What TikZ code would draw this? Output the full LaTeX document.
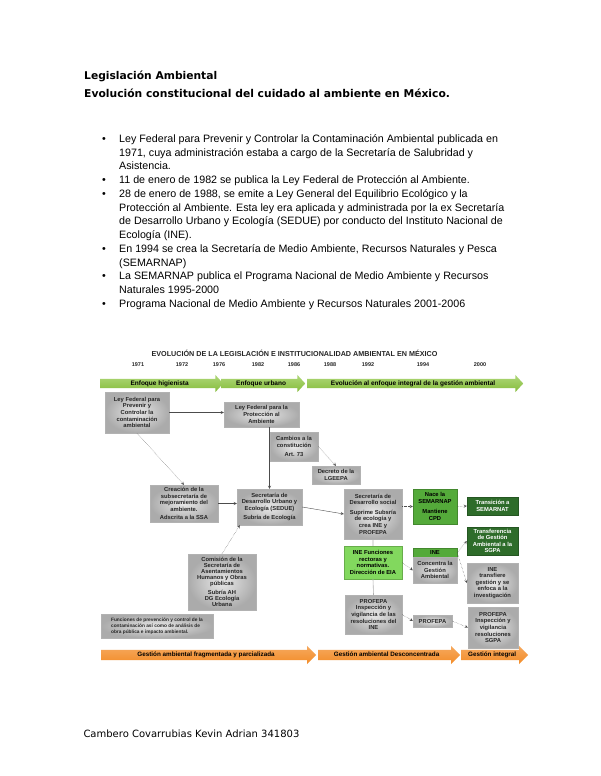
\documentclass[tikz,border=0pt]{standalone}
\usepackage{fontspec}
\setmainfont{Liberation Sans}
\newfontfamily\headfont{DejaVu Sans}
\usepackage{tikz}
\usetikzlibrary{shapes.arrows, positioning}

\definecolor{verdeflecha}{RGB}{140,198,63}
\definecolor{naranja}{RGB}{243,140,40}
\definecolor{verdemedio}{RGB}{84,170,58}
\definecolor{verdeoscuro}{RGB}{46,108,42}
\definecolor{verdeclaro}{RGB}{130,216,94}

\tikzset{
	>=stealth,
	x=1pt, y=-1pt,
	medida/.style 2 args={minimum width=#1, minimum height=#2},
	cajabase/.style={draw=gray!60, line width=0.3pt, inner sep=1pt, align=center,
		font=\fontsize{5.8}{6.6}\selectfont\bfseries},
	caja/.style={cajabase, inner color=gray!18, outer color=gray!66, text=black!85},
	cajaverde/.style={cajabase, fill=verdemedio, draw=verdemedio!80!black, text=black},
	cajaoscura/.style={cajabase, fill=verdeoscuro, draw=verdeoscuro!80!black, text=white},
	cajaclara/.style={cajabase, fill=verdeclaro, draw=verdeclaro!80!black, text=black},
	flechaverde/.style={single arrow, anchor=tail, draw=none,
		top color=verdeflecha!70!white, bottom color=verdeflecha!95!black,
		single arrow head extend=4pt, single arrow tip angle=95,
		text height=4.6pt, text depth=1.3pt, inner ysep=1.4pt, inner xsep=0pt,
		font=\fontsize{6.5}{7}\selectfont\bfseries},
	flechanaranja/.style={flechaverde, top color=naranja!75!white, bottom color=naranja,
		single arrow head extend=4pt, single arrow tip angle=90,
		text height=4.5pt, text depth=1.3pt, inner ysep=2.1pt,
		font=\fontsize{6.3}{7}\selectfont\bfseries},
	anio/.style={font=\fontsize{5.5}{6}\selectfont\bfseries, text=black!85},
	linea/.style={->, draw=black!70, line width=0.4pt},
	punteada/.style={linea, densely dotted},
	renglon/.style={anchor=base west, inner sep=0pt, font=\fontsize{10.7}{12}\selectfont}
}

\begin{document}
\begin{tikzpicture}
	\fill[white] (0,0) rectangle (600,776);
	\useasboundingbox (0,0) rectangle (600,776);

	% encabezado
	\node[anchor=base west, inner sep=0pt, font=\headfont\bfseries\fontsize{10.7}{12}\selectfont] (titulo) at (84,79) {Legislación Ambiental};
	\node[anchor=base west, inner sep=0pt, font=\headfont\bfseries\fontsize{10.75}{12}\selectfont] (subtitulo) at (84,97) {Evolución constitucional del cuidado al ambiente en México.};

	% lista
	\foreach \linea [count=\i from 0] in {
		{Ley Federal para Prevenir y Controlar la Contaminación Ambiental publicada en},
		{1971, cuya administración estaba a cargo de la Secretaría de Salubridad y},
		{Asistencia.},
		{11 de enero de 1982 se publica la Ley Federal de Protección al Ambiente.},
		{28 de enero de 1988, se emite a Ley General del Equilibrio Ecológico y la},
		{Protección al Ambiente. Esta ley era aplicada y administrada por la ex Secretaría},
		{de Desarrollo Urbano y Ecología (SEDUE) por conducto del Instituto Nacional de},
		{Ecología (INE).},
		{En 1994 se crea la Secretaría de Medio Ambiente, Recursos Naturales y Pesca},
		{(SEMARNAP)},
		{La SEMARNAP publica el Programa Nacional de Medio Ambiente y Recursos},
		{Naturales 1995-2000},
		{Programa Nacional de Medio Ambiente y Recursos Naturales 2001-2006}}
		\node[renglon] (l\i) at (119,{142.3+13.75*\i}) {\linea};
	\foreach \i in {0,3,4,8,10,12}
		\node[renglon, anchor=base] at (104,{142.3+13.75*\i}) {\textbullet};

	% diagrama
	\node[font=\fontsize{7.2}{8}\selectfont\bfseries, text=black!85] (diagtitulo) at (294.5,353) {EVOLUCIÓN DE LA LEGISLACIÓN E INSTITUCIONALIDAD AMBIENTAL EN MÉXICO};
	\foreach \anio/\x in {1971/138,1972/182,1976/219,1982/258,1986/294,1988/330,1992/368,1994/423,2000/480}
		\node[anio] (a\anio) at (\x,365) {\anio};

	\node[flechaverde, minimum height=123] (higienista) at (100,383.5) {Enfoque higienista};
	\node[flechaverde, minimum height=84] (urbano) at (221,383.5) {Enfoque urbano};
	\node[flechaverde, minimum height=216] (integral) at (307,383.5) {Evolución al enfoque integral de la gestión ambiental};

	\node[caja, medida={64}{41}] (leyfed71) at (137,412.5) {Ley Federal para\\Prevenir y\\Controlar la\\contaminación\\ambiental};
	\node[caja, medida={75}{25}] (leyfed82) at (261.5,414.5) {Ley Federal para la\\Protección al\\Ambiente};
	\node[caja, medida={48}{29}] (cambios) at (294,446.5) {Cambios a la\\constitución\\[2pt]Art. 73};
	\node[caja, medida={48}{18}] (lgeepa) at (336,475) {Decreto de la\\LGEEPA};
	\node[caja, medida={68}{37}] (subsecretaria) at (184,503.5) {Creación de la\\subsecretaría de\\mejoramiento del\\ambiente.\\[1.5pt]Adscrita a la SSA};
	\node[caja, medida={65}{36}] (sedue) at (269.5,507) {Secretaría de\\Desarrollo Urbano y\\Ecología (SEDUE)\\[3pt]Subría de Ecología};
	\node[caja, medida={68}{56}, font=\fontsize{5.8}{6.1}\selectfont\bfseries] (sahop) at (222,582) {Comisión de la\\Secretaría de\\Asentamientos\\Humanos y Obras\\públicas\\[3pt]Subría AH\\DG Ecología\\Urbana};
	\node[caja, medida={112}{24}, align=left, font=\fontsize{4.8}{6}\selectfont\bfseries] (funciones) at (157,626) {Funciones de prevención y control de la\\contaminación así como de análisis de\\obra pública e impacto ambiental.};
	\node[caja, medida={58}{50}] (sedesol) at (373,514) {Secretaría de\\Desarrollo social\\[3pt]Suprime Subsría\\de ecología y\\crea INE y\\PROFEPA};
	\node[cajaverde, medida={44}{35}] (semarnap) at (435,506.5) {Nace la\\SEMARNAP\\[4pt]Mantiene\\CPD};
	\node[cajaoscura, medida={51}{18}] (semarnat) at (492.5,506) {Transición a\\SEMARNAT};
	\node[cajaoscura, medida={51}{28}] (sgpa) at (492.5,541) {Transferencia\\de Gestión\\Ambiental a la\\SGPA};
	\node[cajaclara, medida={58}{33}] (inenorma) at (373,562.5) {INE Funciones\\rectoras y\\normativas.\\Dirección de EIA};
	\node[cajaverde, medida={44}{9}] (inecab) at (435,552.5) {INE};
	\node[caja, medida={44}{26}, below=0pt of inecab] (inegestion) {Concentra la\\Gestión\\Ambiental};
	\node[caja, medida={51}{40}] (ineinvest) at (492.5,583) {INE\\transfiere\\gestión y se\\enfoca a la\\investigación};
	\node[caja, medida={57}{39}] (profepa1) at (373.5,614.5) {PROFEPA\\Inspección y\\vigilancia de las\\resoluciones del\\INE};
	\node[caja, medida={39}{12}] (profepa2) at (432.5,621) {PROFEPA};
	\node[caja, medida={50}{41}] (profepa3) at (493,627.5) {PROFEPA\\Inspección y\\vigilancia\\resoluciones\\SGPA};

	\node[flechanaranja, minimum height=215] (fragmentada) at (101,655) {Gestión ambiental fragmentada y parcializada};
	\node[flechanaranja, minimum height=142] (desconcentrada) at (318,655) {Gestión ambiental Desconcentrada};
	\node[flechanaranja, minimum height=67] (gintegral) at (461,655) {Gestión integral};

	\draw
	(leyfed71.east) edge[linea] (leyfed71.east -| leyfed82.west)
	(leyfed71.south) edge[punteada] (subsecretaria.north)
	(sedue.north |- leyfed82.south) edge[linea] (sedue.north)
	(cambios.east) edge[punteada] (lgeepa.north)
	(subsecretaria.east) edge[linea] (subsecretaria.east -| sedue.west)
	(sahop.north) edge[punteada] ([xshift=3pt]sedue.south west)
	(sedue.east) edge[linea] (sedesol.west)
	(semarnap.west -| sedesol.east) edge[punteada] (semarnap.west)
	(semarnap.east) edge[punteada] (semarnat.west)
	(inenorma.east) edge[punteada] (inegestion.west)
	(inecab.east) edge[punteada] (sgpa.west)
	(inecab.east) edge[punteada] (ineinvest.west)
	(profepa1.east) edge[punteada] (profepa2.west)
	(profepa2.east) edge[punteada] (profepa3.west)
	;
	\draw[gray!60, line width=0.6pt]
	(sedesol.south) -- (inenorma.north)
	(inenorma.south) -- (profepa1.north);

	% pie
	\node[anchor=base west, inner sep=0pt, font=\headfont\fontsize{10}{12}\selectfont] (autor) at (83.3,737.3) {Cambero Covarrubias Kevin Adrian 341803};
\end{tikzpicture}
\end{document}
